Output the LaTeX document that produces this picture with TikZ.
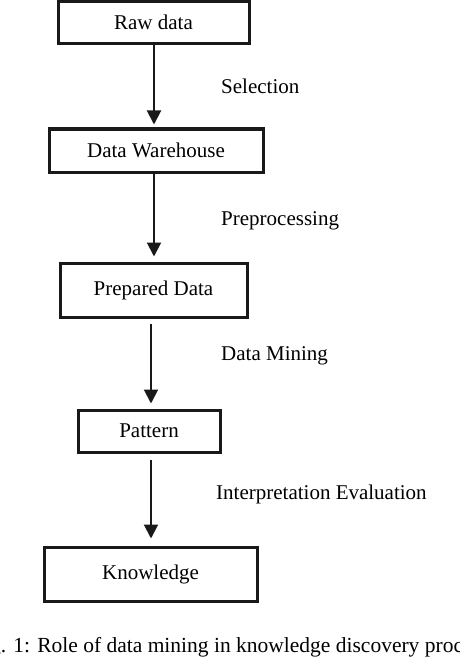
\documentclass[tikz,border=0pt]{standalone}
\usepackage{fontspec}
\setmainfont{Liberation Serif}
\usetikzlibrary{arrows.meta}
\begin{document}
\begin{tikzpicture}[x=1pt,y=-1pt,
  box/.style={draw=black!90,line width=3pt,fill=white,inner sep=0pt,font=\fontsize{21}{25}\selectfont},
  lbl/.style={anchor=base west,inner sep=0pt,font=\fontsize{21}{25}\selectfont},
  arr/.style={draw=black!90,line width=2pt,-{Triangle[width=14pt,length=14pt]}}]
\useasboundingbox (0,0) rectangle (460,658);
\clip (0,0) rectangle (460,658);
\node[box,minimum width=191pt,minimum height=42.5pt] (raw) at (153.5,22.75) {Raw data};
\node[box,minimum width=214pt,minimum height=43pt] (dw) at (156,150.5) {Data Warehouse};
\node[box,minimum width=187pt,minimum height=54pt] (pd) at (153.5,290) {Prepared Data};
\node[box,minimum width=142pt,minimum height=42pt] (pat) at (149,431) {Pattern};
\node[box,minimum width=213pt,minimum height=54pt] (kn) at (150.5,574) {Knowledge};
\draw[arr,shorten >=3pt] ([xshift=0.5pt]raw.south) -- ([xshift=0.5pt]raw.south |- dw.north);
\draw[arr,shorten >=5pt] ([xshift=-2pt]dw.south) -- ([xshift=-2pt]dw.south |- pd.north);
\draw[arr,shorten <=5pt,shorten >=5pt] ([xshift=-2.5pt]pd.south) -- ([xshift=-2.5pt]pd.south |- pat.north);
\draw[arr,shorten <=6pt,shorten >=7pt] ([xshift=2pt]pat.south) -- ([xshift=2pt]pat.south |- kn.north);
\node[lbl] (l1) at (221,94) {Selection};
\node[lbl] (l2) at (221,225) {Preprocessing};
\node[lbl] (l3) at (221,360) {Data Mining};
\node[lbl] (l4) at (216,499) {Interpretation Evaluation};
\node[lbl,font=\fontsize{21.5}{25}\selectfont] (cap) at (-28,652) {Fig. 1: Role of data mining in knowledge discovery process};
\end{tikzpicture}
\end{document}
